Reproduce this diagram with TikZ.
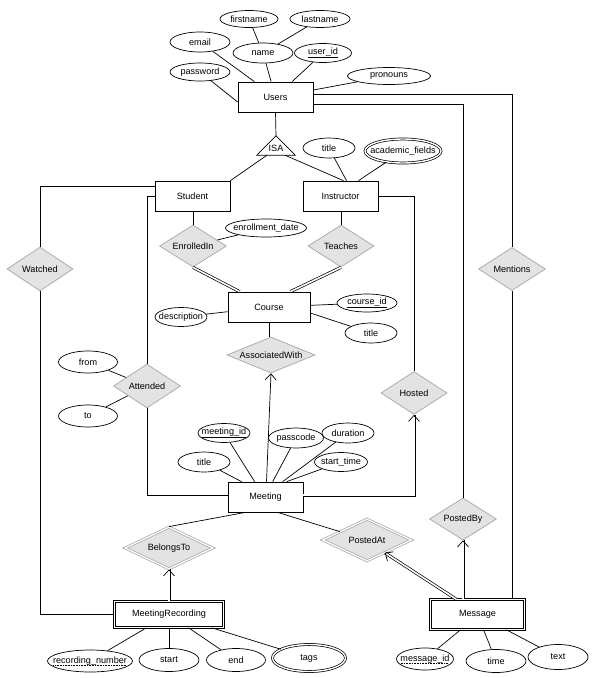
\documentclass[tikz,border=0pt]{standalone}
\usepackage{fontspec}
\setmainfont{Liberation Sans}
\usetikzlibrary{shapes.geometric,arrows.meta,calc}
\newcommand\zt[1]{\makebox[0pt]{#1}}
\newsavebox\dulbox
\newcommand\dotul[1]{\sbox\dulbox{#1}\makebox[0pt][l]{\raisebox{-2pt}{\makebox[\wd\dulbox]{\leaders\hbox to 1.6pt{\hss\rule{0.8pt}{0.5pt}\hss}\hfill}}}\usebox\dulbox}
\begin{document}
\begin{tikzpicture}[x=1pt,y=-1pt,
 every node/.style={font=\fontsize{9.1}{10}\selectfont, inner sep=0pt},
 attr/.style={draw, ellipse, line width=0.7pt, fill=white},
 mattr/.style={attr, double, double distance=1.4pt},
 ent/.style={draw, rectangle, line width=0.7pt, fill=white},
 went/.style={draw, rectangle, double, double distance=1.6pt, line width=0.7pt, fill=white},
 rel/.style={draw=gray!65, fill=gray!22, diamond, line width=0.8pt},
 wrel/.style={rel, double=white, double distance=1.2pt},
 con/.style={line width=0.7pt},
 dcon/.style={line width=0.7pt, double, double distance=1.6pt},
 tip/.style={-{Straight Barb[length=6pt,width=11pt]}, line width=0.7pt},
]
\path[use as bounding box] (0,0) rectangle (593,678);

% Users and attributes
\node[ent, minimum width=75, minimum height=30] (Users) at (275.5,97) {\zt{Users}};
\node[attr, minimum width=58, minimum height=17] (firstname) at (249,19) {\zt{firstname}};
\node[attr, minimum width=60, minimum height=17] (lastname) at (320,19) {\zt{lastname}};
\node[attr, minimum width=60, minimum height=20] (email) at (200,42) {\zt{email}};
\node[attr, minimum width=60, minimum height=20] (name) at (263,53) {\zt{name}};
\node[attr, minimum width=57, minimum height=19] (userid) at (323,53) {\zt{\underline{user\_id}}};
\node[attr, minimum width=60, minimum height=18] (password) at (200,72) {\zt{password}};
\node[attr, minimum width=83, minimum height=17] (pronouns) at (389,76) {\zt{pronouns}};

% ISA
\node[minimum width=38, minimum height=19] (ISA) at (276,145.5) {};
\node (ISAt) at ($(ISA.center)+(0,3)$) {ISA};
\draw[con] (ISA.north) -- (ISA.south east) -- (ISA.south west) -- cycle;

% Student / Instructor
\node[ent, minimum width=75, minimum height=30] (Student) at (192.5,196) {\zt{Student}};
\node[ent, minimum width=75, minimum height=30] (Instructor) at (340.5,196) {\zt{Instructor}};
\node[attr, minimum width=52, minimum height=20] (ititle) at (329,148) {\zt{title}};
\node[mattr, minimum width=76, minimum height=24] (acad) at (403,151) {\zt{academic\_fields}};

\node[rel, minimum width=67, minimum height=42] (EnrolledIn) at (193,246) {\zt{EnrolledIn}};
\node[rel, minimum width=66, minimum height=42] (Teaches) at (341,246) {\zt{Teaches}};
\node[attr, minimum width=81, minimum height=18] (edate) at (266,228) {\zt{enrollment\_date}};

% Course
\node[ent, minimum width=82, minimum height=30] (Course) at (269,307) {\zt{Course}};
\node[attr, minimum width=52, minimum height=19] (desc) at (181,317) {\zt{description}};
\node[attr, minimum width=60, minimum height=18] (courseid) at (367,303) {\zt{\underline{course\_id}}};
\node[attr, minimum width=52, minimum height=20] (ctitle) at (371,333) {\zt{title}};
\node[rel, minimum width=88, minimum height=36] (Assoc) at (271,355) {\zt{AssociatedWith}};

% Side relations
\node[rel, minimum width=66, minimum height=44] (Watched) at (40,269) {\zt{Watched}};
\node[rel, minimum width=67, minimum height=44] (Attended) at (147,386) {\zt{Attended}};
\node[attr, minimum width=59, minimum height=22] (from) at (88,362) {\zt{from}};
\node[attr, minimum width=59, minimum height=22] (to) at (88,416) {\zt{to}};
\node[rel, minimum width=66, minimum height=43] (Hosted) at (414,393) {\zt{Hosted}};
\node[rel, minimum width=67, minimum height=43] (Mentions) at (512,269) {\zt{Mentions}};
\node[rel, minimum width=67, minimum height=42] (PostedBy) at (463,519) {\zt{PostedBy}};

% Meeting
\node[ent, minimum width=75, minimum height=30] (Meeting) at (265.5,497) {\zt{Meeting}};
\node[attr, minimum width=52, minimum height=19] (mid) at (224,433) {\zt{\underline{meeting\_id}}};
\node[attr, minimum width=52, minimum height=20] (mtitle) at (204,462) {\zt{title}};
\node[attr, minimum width=55, minimum height=20] (passcode) at (296,438) {\zt{passcode}};
\node[attr, minimum width=52, minimum height=20] (duration) at (348,433) {\zt{duration}};
\node[attr, minimum width=53, minimum height=19] (stime) at (341,462) {\zt{start\_time}};

\node[wrel, minimum width=88, minimum height=42] (BelongsTo) at (169,548) {\zt{BelongsTo}};
\node[wrel, minimum width=89, minimum height=42] (PostedAt) at (367,540) {\zt{PostedAt}};

% Weak entities
\node[went, minimum width=109, minimum height=26] (MR) at (169,614.5) {\zt{MeetingRecording}};
\node[went, minimum width=94, minimum height=30] (Message) at (477.5,614.5) {\zt{Message}};
\node[attr, minimum width=85, minimum height=22] (recno) at (90,661) {\zt{\dotul{recording\_number}}};
\node[attr, minimum width=60, minimum height=23] (start) at (169,660) {\zt{start}};
\node[attr, minimum width=59, minimum height=23] (end) at (236,660) {\zt{end}};
\node[mattr, minimum width=73, minimum height=27] (tags) at (309,658) {\zt{tags}};
\node[attr, minimum width=57, minimum height=22] (msgid) at (425,659) {\zt{\dotul{message\_id}}};
\node[attr, minimum width=60, minimum height=23] (time) at (496,661) {\zt{time}};
\node[attr, minimum width=60, minimum height=25] (text) at (558,657) {\zt{text}};

% ---- connectors ----
\draw[con] (firstname) -- (name);
\draw[con] (lastname) -- (name);
\draw[con] (email) -- (Users);
\draw[con] (name) -- (Users);
\draw[con] (userid) -- (Users);
\draw[con] (password) -- ($(Users.west)+(0,5)$);
\draw[con] (pronouns) -- (Users);

\draw[con] (Users.south) -- (ISA.north);
\draw[con] ($(ISA.south)+(-9,0)$) -- (Student.north east);
\draw[con] ($(ISA.south)+(9,0)$) -- ($(Instructor.north)+(3,0)$);
\draw[con] (ititle) -- ($(Instructor.north)+(6,0)$);
\draw[con] (acad) -- ($(Instructor.north)+(18,0)$);

\draw[con] (Student.south -| EnrolledIn) -- (EnrolledIn.north);
\draw[con] (Instructor.south -| Teaches) -- (Teaches.north);
\draw[con] (edate) -- (EnrolledIn);
\draw[dcon] (EnrolledIn.south) -- ($(Course.north west)+(12,0)$);
\draw[dcon] (Teaches.south) -- ($(Course.north east)+(-20,0)$);

\draw[con] (desc) -- (Course);
\draw[con] (courseid) -- (Course);
\draw[con] (ctitle) -- ($(Course.east)+(0,6)$);
\draw[con] (Course.south) -- (Course.south |- Assoc.north);
\draw[tip] ($(Meeting.north)+(1,0)$) -- (Assoc.south);

\draw[con] (mtitle) -- ($(Meeting.north west)+(14,0)$);
\draw[con] (mid) -- ($(Meeting.north west)+(27,0)$);
\draw[con] (passcode) -- ($(Meeting.north west)+(45,0)$);
\draw[con] (duration) -- ($(Meeting.north west)+(55,0)$);
\draw[con] (stime) -- ($(Meeting.north west)+(59,0)$);

% Student side paths
\draw[con] (Student.west) -| (Attended.north);
\draw[con] (Attended.south) |- ($(Meeting.west)+(0,-2)$);
\draw[con] (from) -- (Attended);
\draw[con] (to) -- (Attended);
\draw[con] ($(Student.north west)+(0,6)$) -| ($(Watched.north)+(0.5,0)$);
\draw[con] ($(Watched.south)+(0.5,0)$) |- (MR.west);

% Instructor -> Hosted, Meeting -> Hosted
\draw[con] (Instructor.east) -| (Hosted.north);
\draw[dcon] ($(Meeting.east)+(0,-2)$) -| (Hosted.south);
\draw[tip] ($(Hosted.south)+(0,1)$) -- (Hosted.south);

% Users -> Mentions / PostedBy
\draw[con] ($(Users.east)+(0,-3)$) -| (Mentions.north);
\draw[con] ($(Users.east)+(0,7)$) -| (PostedBy.north);
\draw[con] (Mentions.south) -- (Mentions.south |- Message.north);
\draw[dcon] (PostedBy.south |- Message.north) -- (PostedBy.south);
\draw[tip] ($(PostedBy.south)+(0,1)$) -- (PostedBy.south);

% Meeting -> BelongsTo / PostedAt
\draw[con] ($(Meeting.south)+(-20,0)$) -- (BelongsTo.north);
\draw[con] ($(Meeting.south)+(12,0)$) -- (PostedAt);
\draw[dcon] (MR.north) -- (BelongsTo.south);
\draw[tip] ($(BelongsTo.south)+(0,1)$) -- (BelongsTo.south);
\coordinate (paS) at ($(Message.north west)+(26,0)$);
\coordinate (paE) at ($(PostedAt.south)!0.4!(PostedAt.east)$);
\draw[dcon] (paS) -- (paE);
\draw[tip] ($(paE)!1pt!(paS)$) -- (paE);

% weak entity attributes
\draw[con] (recno) -- (MR);
\draw[con] (start) -- (MR);
\draw[con] (end) -- (MR);
\draw[con] (tags) -- (MR);
\draw[con] (msgid) -- ($(Message.south)+(-17,0)$);
\draw[con] (time) -- (Message);
\draw[con] (text) -- ($(Message.south)+(29,0)$);
\end{tikzpicture}
\end{document}
